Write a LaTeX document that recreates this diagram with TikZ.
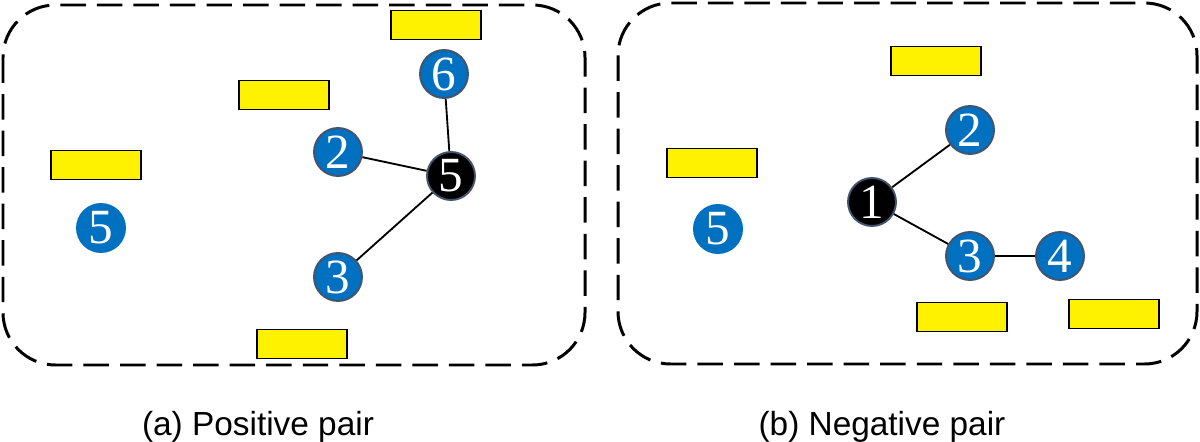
\documentclass[tikz,border=0pt]{standalone}
\usepackage{fontspec}
\setmainfont{Liberation Serif}
\newfontfamily\labelfont{Liberation Sans}
\definecolor{nodeblue}{HTML}{0070C0}
\definecolor{nodeedge}{HTML}{42546E}
\begin{document}
\begin{tikzpicture}[x=0.02cm,y=-0.02cm,
  panel/.style={draw=black,line width=1.7pt,dash pattern=on 14.5pt off 6.3pt,rounded corners=1.05cm},
  ybox/.style={draw=black,line width=0.9pt,fill=yellow,minimum width=1.8cm,minimum height=0.58cm,inner sep=0pt},
  vnode/.style={circle,fill=nodeblue,draw=nodeedge,line width=1.1pt,minimum size=0.96cm,inner sep=0pt,text=white,font=\fontsize{28}{28}\selectfont},
  lonenode/.style={vnode,draw=none,minimum size=1.0cm},
  cnode/.style={vnode,fill=black},
  edge/.style={draw=black,line width=1.05pt},
  caption/.style={font=\labelfont\fontsize{19}{19}\selectfont,inner sep=0pt,anchor=base}
]
\useasboundingbox (0,0) rectangle (1200,442);
% panels
\draw[panel] (3,5) rectangle (585,365);
\draw[panel] (618,3) rectangle (1197,364);
% left panel yellow boxes
\node[ybox] (ya1) at (436,25) {};
\node[ybox] (ya2) at (284,95) {};
\node[ybox] (ya3) at (96,165) {};
\node[ybox] (ya4) at (302,344) {};
% right panel yellow boxes
\node[ybox] (yb1) at (936,61) {};
\node[ybox] (yb2) at (712,163) {};
\node[ybox] (yb3) at (962,317) {};
\node[ybox] (yb4) at (1114,314) {};
% left graph
\node[vnode] (a6) at (444,74) {6};
\node[vnode] (a2) at (338,152) {2};
\node[cnode] (a5) at (451,176) {5};
\node[vnode] (a3) at (338,277) {3};
\node[lonenode] (a5l) at (101,228) {5};
\draw[edge] (a6) -- (a5);
\draw[edge] (a2) -- (a5);
\draw[edge] (a3) -- (a5);
% right graph
\node[vnode] (b2) at (970,130) {2};
\node[cnode] (b1) at (872,202) {1};
\node[vnode] (b3) at (970,256) {3};
\node[vnode] (b4) at (1060,256) {4};
\node[lonenode] (b5l) at (718,229) {5};
\draw[edge] (b1) -- (b2);
\draw[edge] (b1) -- (b3);
\draw[edge] (b3) -- (b4);
% captions
\node[caption] (capa) at (258,435) {(a) Positive pair};
\node[caption] (capb) at (882,435) {(b) Negative pair};
\end{tikzpicture}
\end{document}
